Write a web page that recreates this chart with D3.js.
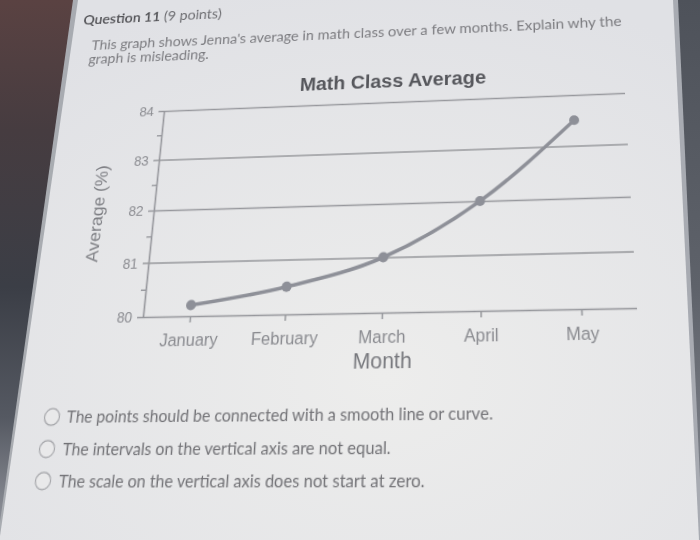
<!DOCTYPE html>
<html>
<head>
<meta charset="utf-8">
<script src="https://cdn.jsdelivr.net/npm/d3@7"></script>
<style>
  html, body { margin: 0; padding: 0; }
  body { width: 700px; height: 540px; overflow: hidden; position: relative; background: #e6e6e8; }
  #bg, #chart { position: absolute; left: 0; top: 0; overflow: visible; }
  #chart { transform-origin: 0 0; filter: blur(0.45px); }
</style>
</head>
<body>
<svg id="bg" width="700" height="540"></svg>
<svg id="chart" width="700" height="540"></svg>
<script>
// values
const months = ["January", "February", "March", "April", "May"];
const average = [80.2, 80.5, 81.0, 82.0, 83.5];
const yTicks = [80, 81, 82, 83, 84];
const yMinorTicks = [80.5, 81.5, 82.5, 83.5];
const choices = [
  "The points should be connected with a smooth line or curve.",
  "The intervals on the vertical axis are not equal.",
  "The scale on the vertical axis does not start at zero."
];

// flat plot box and where its corners land in the photo (screen is tilted)
const plot = { left: 148, right: 630, top: 105, bottom: 315 };
const photoCorners = [[164, 111], [625, 93], [143, 317], [637, 308]];

function homography(src, dst) {
  const A = [], b = [];
  src.forEach(([x, y], i) => {
    const [u, v] = dst[i];
    A.push([x, y, 1, 0, 0, 0, -u * x, -u * y]); b.push(u);
    A.push([0, 0, 0, x, y, 1, -v * x, -v * y]); b.push(v);
  });
  for (let c = 0; c < 8; c++) {
    let p = c;
    for (let r = c + 1; r < 8; r++) if (Math.abs(A[r][c]) > Math.abs(A[p][c])) p = r;
    [A[c], A[p]] = [A[p], A[c]];
    [b[c], b[p]] = [b[p], b[c]];
    for (let r = 0; r < 8; r++) {
      if (r === c) continue;
      const f = A[r][c] / A[c][c];
      for (let k = c; k < 8; k++) A[r][k] -= f * A[c][k];
      b[r] -= f * b[c];
    }
  }
  const h = b.map((v, i) => v / A[i][i]);
  return [[h[0], h[1], h[2]], [h[3], h[4], h[5]], [h[6], h[7], 1]];
}

function invert3(m) {
  const [[a, b, c], [d, e, f], [g, h, i]] = m;
  const A = e * i - f * h, B = -(d * i - f * g), C = d * h - e * g;
  const det = a * A + b * B + c * C;
  return [
    [A / det, -(b * i - c * h) / det, (b * f - c * e) / det],
    [B / det, (a * i - c * g) / det, -(a * f - c * d) / det],
    [C / det, -(a * h - b * g) / det, (a * e - b * d) / det]
  ];
}

const srcCorners = [[plot.left, plot.top], [plot.right, plot.top], [plot.left, plot.bottom], [plot.right, plot.bottom]];
const H = homography(srcCorners, photoCorners);
const Hinv = invert3(H);

// photo position -> flat position
function unwarp([u, v]) {
  const x = Hinv[0][0] * u + Hinv[0][1] * v + Hinv[0][2];
  const y = Hinv[1][0] * u + Hinv[1][1] * v + Hinv[1][2];
  const w = Hinv[2][0] * u + Hinv[2][1] * v + Hinv[2][2];
  return [x / w, y / w];
}

d3.select("#chart").style("transform",
  `matrix3d(${H[0][0]},${H[1][0]},0,${H[2][0]},${H[0][1]},${H[1][1]},0,${H[2][1]},0,0,1,0,${H[0][2]},${H[1][2]},0,1)`);

// background: screen and dark bezels of the photo
const bg = d3.select("#bg");
const defs = bg.append("defs");
const scr = defs.append("radialGradient").attr("id", "scr").attr("cx", "55%").attr("cy", "70%").attr("r", "75%");
scr.append("stop").attr("offset", "0%").attr("stop-color", "#ededec");
scr.append("stop").attr("offset", "100%").attr("stop-color", "#e0e1e5");
const lb = defs.append("linearGradient").attr("id", "lb").attr("x1", 0).attr("y1", 0).attr("x2", 0).attr("y2", 1);
[["0%", "#5a4242"], ["25%", "#463c40"], ["55%", "#3b3e46"], ["80%", "#555962"], ["100%", "#8e9199"]]
  .forEach(([o, c]) => lb.append("stop").attr("offset", o).attr("stop-color", c));
const rb = defs.append("linearGradient").attr("id", "rb").attr("x1", 0).attr("y1", 0).attr("x2", 0).attr("y2", 1);
[["0%", "#4e525a"], ["60%", "#5e626a"], ["100%", "#7c8088"]]
  .forEach(([o, c]) => rb.append("stop").attr("offset", o).attr("stop-color", c));

bg.append("rect").attr("width", 700).attr("height", 540).attr("fill", "url(#scr)");
bg.append("polygon").attr("points", "0,0 78,0 0,536").attr("fill", "#9a9da4").attr("opacity", 0.8);
bg.append("polygon").attr("points", "0,0 73,0 0,522").attr("fill", "url(#lb)");
bg.append("polygon").attr("points", "673,0 700,0 700,540 699,540").attr("fill", "#a8abb2");
bg.append("polygon").attr("points", "678,0 700,0 700,480").attr("fill", "url(#rb)");

// chart in flat coordinates
const svg = d3.select("#chart");
const W = plot.right - plot.left;
const sans = "'Liberation Sans', Arial, sans-serif";
const lato = "Lato, 'Open Sans', sans-serif";
const grid = "#97989d";

const x = d3.scalePoint().domain(months).range([196, 578]);
const y = d3.scaleLinear().domain([80, 84]).range([plot.bottom, plot.top]);

const yAxis = svg.append("g")
  .attr("transform", `translate(${plot.left},0)`)
  .call(d3.axisLeft(y).tickValues(yTicks).tickFormat(d3.format("d"))
    .tickSize(-W).tickSizeOuter(0).tickPadding(11));
yAxis.select(".domain").attr("stroke", grid).attr("stroke-width", 1.7);
yAxis.selectAll(".tick line").attr("x1", -6).attr("stroke", grid).attr("stroke-width", 1.7);
yAxis.selectAll(".tick text")
  .attr("font-family", sans).attr("font-size", 14.2).attr("fill", "#8c8d92");

const yMinor = svg.append("g")
  .attr("transform", `translate(${plot.left},0)`)
  .call(d3.axisLeft(y).tickValues(yMinorTicks).tickSize(5).tickFormat(""));
yMinor.select(".domain").remove();
yMinor.selectAll(".tick line").attr("stroke", grid).attr("stroke-width", 1.4);

const xAxis = svg.append("g")
  .attr("transform", `translate(0,${plot.bottom})`)
  .call(d3.axisBottom(x).tickSize(6).tickPadding(10));
xAxis.select(".domain").remove();
xAxis.selectAll(".tick line").attr("stroke", grid).attr("stroke-width", 1.5);
xAxis.selectAll(".tick text")
  .attr("font-family", sans).attr("font-size", 16.5).attr("fill", "#8a8b90");

const pts = months.map((m, i) => ({ m, v: average[i] }));
svg.append("path")
  .datum(pts)
  .attr("fill", "none")
  .attr("stroke", "#8e9098")
  .attr("stroke-width", 3.6)
  .attr("stroke-linejoin", "round")
  .attr("d", d3.line().x(d => x(d.m)).y(d => y(d.v)).curve(d3.curveMonotoneX));
svg.selectAll("circle.pt")
  .data(pts)
  .enter()
  .append("circle")
  .attr("class", "pt")
  .attr("cx", d => x(d.m))
  .attr("cy", d => y(d.v))
  .attr("r", 5)
  .attr("fill", "#8e9098");

// titles and labels, anchored where they sit in the photo
function textAt(pos, str, opts) {
  const [fx, fy] = unwarp(pos);
  const t = svg.append("text")
    .attr("x", fx).attr("y", fy)
    .attr("font-family", opts.family)
    .attr("font-size", opts.size)
    .attr("font-weight", opts.weight || "normal")
    .attr("fill", opts.fill)
    .attr("text-anchor", opts.anchor || "start")
    .text(str);
  if (opts.rotate) t.attr("transform", `rotate(${opts.rotate},${fx},${fy})`);
  return t;
}

textAt([392, 87], "Math Class Average", { family: sans, size: 20.8, weight: "bold", fill: "#56575c", anchor: "middle" });
textAt([103, 213], "Average (%)", { family: sans, size: 18, fill: "#7d7e83", anchor: "middle", rotate: -90 });
textAt([382, 368], "Month", { family: sans, size: 20.5, fill: "#77787d", anchor: "middle" });

const q = textAt([83, 25], "", { family: lato, size: 16, fill: "#505054" });
q.append("tspan").attr("font-weight", 600).text("Question 11 ");
q.append("tspan").attr("fill", "#6e6e72").text("(9 points)");
textAt([91, 50], "This graph shows Jenna's average in math class over a few months. Explain why the",
  { family: lato, size: 15.8, fill: "#7c7c80" });
textAt([88, 64], "graph is misleading.", { family: lato, size: 15.8, fill: "#7c7c80" });

const circlePos = [[52, 417], [47, 449], [43, 481]];
const textPos = [[66, 423], [62, 455], [58, 487]];
choices.forEach((c, i) => {
  const [cx, cy] = unwarp(circlePos[i]);
  svg.append("circle")
    .attr("cx", cx).attr("cy", cy).attr("r", 7.5)
    .attr("fill", "#e9e9ea").attr("stroke", "#a6a7ab").attr("stroke-width", 1.2);
  textAt(textPos[i], c, { family: lato, size: 15.6, fill: "#727276" });
});
</script>
</body>
</html>
